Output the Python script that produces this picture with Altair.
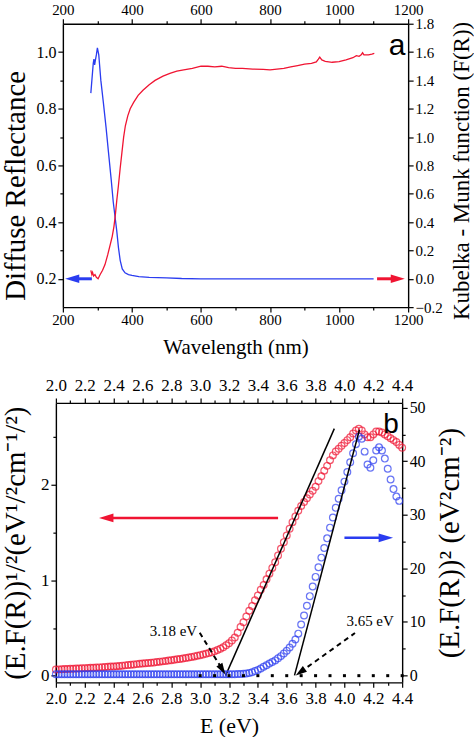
import altair as alt
import pandas as pd

SERIF = "Liberation Serif"
SANS = "Liberation Sans"
RED = "#f01432"
BLUE = "#2a3cf0"

# ---------------- panel a data ----------------
a_blue_nm = [281, 288, 290, 292, 294, 297, 300, 304, 310, 317,
             325, 332, 340, 346, 352, 356, 361, 366, 372, 380,
             390, 400, 420, 450, 500, 544, 600, 700, 800, 900, 1000, 1100]
a_blue_val = [0.855, 0.96, 0.975, 0.955, 0.97, 0.99, 1.015, 0.99, 0.90, 0.825,
              0.735, 0.648, 0.55, 0.47, 0.41, 0.37, 0.31, 0.265, 0.235, 0.221,
              0.215, 0.212, 0.208, 0.205, 0.203, 0.201, 0.2, 0.2, 0.2, 0.2, 0.2, 0.2]

a_red_nm = [281, 284, 286, 289, 293, 297, 302, 308, 315, 322,
            330, 337, 343, 348, 352, 356, 361, 366, 371, 376,
            381, 388, 395, 405, 418, 432, 450, 467, 490, 510,
            530, 550, 575, 600, 620, 640, 660, 680, 700, 720,
            750, 780, 800, 820, 840, 860, 880, 900, 920, 934,
            940, 944, 950, 960, 980, 1000, 1020, 1040, 1050, 1058,
            1064, 1068, 1072, 1085, 1095, 1102]
a_red_val = [0.06, 0.03, 0.045, 0.02, 0.03, 0.01, 0.0, 0.03, 0.06, 0.10,
             0.17, 0.24, 0.30, 0.37, 0.45, 0.55, 0.66, 0.78, 0.89, 1.0,
             1.08, 1.15, 1.20, 1.245, 1.295, 1.33, 1.37, 1.40, 1.43, 1.45,
             1.465, 1.475, 1.485, 1.50, 1.50, 1.495, 1.50, 1.49, 1.485, 1.485,
             1.48, 1.478, 1.475, 1.48, 1.485, 1.495, 1.505, 1.515, 1.52, 1.53,
             1.55, 1.565, 1.545, 1.535, 1.528, 1.533, 1.545, 1.56, 1.575, 1.57,
             1.58, 1.595, 1.58, 1.58, 1.585, 1.59]

a_xticks = [200, 300, 400, 500, 600, 700, 800, 900, 1000, 1100, 1200]
a_lticks = [0.2, 0.3, 0.4, 0.5, 0.6, 0.7, 0.8, 0.9, 1.0]
a_rticks = [-0.2, 0.0, 0.2, 0.4, 0.6, 0.8, 1.0, 1.2, 1.4, 1.6, 1.8]

# arrows of panel a (shaft from/to, head centre)
a_blue_arrow_nm = [227, 284]
a_blue_arrow_val = [0.2, 0.2]
a_blue_head = [227]
a_red_arrow_nm = [1110, 1170]
a_red_arrow_val = [0.0, 0.0]
a_red_head = [1170]

# ---------------- panel b data ----------------
b_E = [2.00, 2.02, 2.04, 2.06, 2.08, 2.10, 2.12, 2.14, 2.16, 2.18,
       2.20, 2.22, 2.24, 2.26, 2.28, 2.30, 2.32, 2.34, 2.36, 2.38,
       2.40, 2.42, 2.44, 2.46, 2.48, 2.50, 2.52, 2.54, 2.56, 2.58,
       2.60, 2.62, 2.64, 2.66, 2.68, 2.70, 2.72, 2.74, 2.76, 2.78,
       2.80, 2.82, 2.84, 2.86, 2.88, 2.90, 2.92, 2.94, 2.96, 2.98,
       3.00, 3.02, 3.04, 3.06, 3.08, 3.10, 3.12, 3.14, 3.16, 3.18,
       3.20, 3.22, 3.24, 3.26, 3.28, 3.30, 3.32, 3.34, 3.36, 3.38,
       3.40, 3.42, 3.44, 3.46, 3.48, 3.50, 3.52, 3.54, 3.56, 3.58,
       3.60, 3.62, 3.64, 3.66, 3.68, 3.70, 3.72, 3.74, 3.76, 3.78,
       3.80, 3.82, 3.84, 3.86, 3.88, 3.90, 3.92, 3.94, 3.96, 3.98,
       4.00, 4.02, 4.04, 4.06, 4.08, 4.10, 4.12, 4.14, 4.16, 4.18,
       4.20, 4.22, 4.24, 4.26, 4.28, 4.30, 4.32, 4.34, 4.36, 4.38,
       4.40]
b_red = [0.065, 0.066, 0.068, 0.069, 0.070, 0.072, 0.073, 0.074, 0.076, 0.077,
         0.079, 0.080, 0.082, 0.083, 0.085, 0.087, 0.089, 0.091, 0.093, 0.095,
         0.097, 0.099, 0.102, 0.105, 0.108, 0.112, 0.115, 0.118, 0.121, 0.124,
         0.127, 0.130, 0.133, 0.136, 0.139, 0.143, 0.147, 0.150, 0.154, 0.158,
         0.162, 0.166, 0.171, 0.175, 0.180, 0.185, 0.190, 0.196, 0.202, 0.208,
         0.215, 0.222, 0.229, 0.237, 0.246, 0.256, 0.268, 0.282, 0.298, 0.318,
         0.340, 0.368, 0.40, 0.45, 0.51, 0.56, 0.62, 0.68, 0.73, 0.79,
         0.84, 0.90, 0.95, 1.01, 1.07, 1.13, 1.19, 1.26, 1.33, 1.40,
         1.47, 1.54, 1.61, 1.67, 1.73, 1.78, 1.82, 1.86, 1.90, 1.94,
         1.98, 2.04, 2.09, 2.15, 2.20, 2.26, 2.31, 2.35, 2.38, 2.41,
         2.44, 2.47, 2.50, 2.54, 2.57, 2.59, 2.57, 2.53, 2.50, 2.50,
         2.53, 2.56, 2.56, 2.55, 2.53, 2.51, 2.49, 2.47, 2.45, 2.42,
         2.39]
b_blue = [0.2, 0.2, 0.2, 0.2, 0.2, 0.2, 0.2, 0.2, 0.2, 0.2,
          0.2, 0.2, 0.2, 0.2, 0.2, 0.2, 0.2, 0.2, 0.2, 0.2,
          0.2, 0.2, 0.2, 0.2, 0.2, 0.2, 0.2, 0.2, 0.2, 0.2,
          0.2, 0.2, 0.2, 0.2, 0.2, 0.2, 0.2, 0.2, 0.2, 0.2,
          0.2, 0.2, 0.2, 0.2, 0.2, 0.2, 0.2, 0.2, 0.2, 0.2,
          0.2, 0.2, 0.2, 0.2, 0.2, 0.2, 0.2, 0.2, 0.2, 0.2,
          0.2, 0.2, 0.2, 0.25, 0.25, 0.3, 0.35, 0.45, 0.6, 0.8,
          1.0, 1.3, 1.6, 1.9, 2.2, 2.5, 2.8, 3.2, 3.6, 4.1,
          4.6, 5.2, 5.9, 6.7, 7.8, 9.5, 11.2, 13.0, 14.8, 16.6,
          18.4, 20.2, 22.0, 23.8, 25.6, 27.6, 29.5, 31.3, 33.0, 34.6,
          36.2, 38.0, 39.8, 41.5, 43.2, 44.6, 44.2, 41.8, 39.4, 38.8,
          40.2, 42.0, 42.6, 42.0, 40.5, 38.6, 36.6, 34.8, 33.4, 32.6]

b_xticks = [2.0, 2.1, 2.2, 2.3, 2.4, 2.5, 2.6, 2.7, 2.8, 2.9, 3.0, 3.1, 3.2,
            3.3, 3.4, 3.5, 3.6, 3.7, 3.8, 3.9, 4.0, 4.1, 4.2, 4.3, 4.4]
b_lticks = [0, 0.5, 1, 1.5, 2, 2.5]
b_rticks = [0, 5, 10, 15, 20, 25, 30, 35, 40, 45, 50]

# tangent lines
tan1_E = [3.176, 3.93]
tan1_L = [0.0, 2.59]
tan2_E = [3.654, 4.104]
tan2_R = [0.0, 45.9]
# dotted baseline
dots_E = [3.0, 3.1, 3.2, 3.3, 3.4, 3.5, 3.6, 3.7, 3.8, 3.9, 4.0, 4.1, 4.2, 4.3, 4.4]
dots_L = [0, 0, 0, 0, 0, 0, 0, 0, 0, 0, 0, 0, 0, 0, 0]
# dashed pointer arrows (start -> head centre), heads
dash1_E = [2.997, 3.154]
dash1_L = [0.45, 0.064]
dash2_E = [4.073, 3.694]
dash2_L = [0.447, 0.037]
heads_E = [3.154, 3.694]
heads_L = [0.064, 0.037]
heads_ang = [148, 234]
# labels
lab_E = [2.815, 4.178]
lab_L = [0.47, 0.576]
lab_txt = ["3.18 eV", "3.65 eV"]
# solid arrows of panel b
b_red_arrow_E = [2.349, 3.54]
b_red_arrow_L = [1.654, 1.654]
b_blue_arrow_E = [4.0, 4.287]
b_blue_arrow_L = [1.445, 1.445]

HEAD_LEFT = "M -1,0 L 1,-0.6 L 1,0.6 Z"
HEAD_RIGHT = "M 1,0 L -1,-0.6 L -1,0.6 Z"
HEAD_UP = "M 0,-1 L 0.62,1 L -0.62,1 Z"


def axis(orient, values, test, fmt, title=None, big=5, small=3, lsize=16,
         tsize=22, lpad=2, tpad=10, **extra):
    kw = dict(orient=orient, values=values, format=fmt,
              labelExpr="(" + test + ") ? datum.label : ''",
              tickSize={"condition": {"test": test, "value": big}, "value": small},
              labelFontSize=lsize, labelPadding=lpad, labelFont=SERIF,
              labelColor="black", domainColor="black", tickColor="black",
              domainWidth=1.4, tickWidth=1.2, grid=False, labelFlush=False,
              labelOverlap=False, title=title)
    if title is not None:
        kw.update(titleFontSize=tsize, titlePadding=tpad, titleFont=SERIF,
                  titleFontWeight="normal", titleColor="black")
    kw.update(extra)
    return alt.Axis(**kw)


# ================= panel a =================
sa_x = alt.Scale(domain=[200, 1200], nice=False, zero=False)
sa_l = alt.Scale(domain=[0.1, 1.1], nice=False, zero=False)
sa_r = alt.Scale(domain=[-0.2, 1.8], nice=False, zero=False)
nm_test = "datum.value % 200 === 0"
dec_test = "round(datum.value*10) % 2 === 0"

xa_b = alt.X("x:Q", scale=sa_x,
             axis=axis("bottom", a_xticks, nm_test, "d", "Wavelength (nm)",
                       lsize=15, lpad=0, tpad=9, tsize=21))
xa_t = alt.X("x:Q", scale=sa_x, axis=axis("top", a_xticks, nm_test, "d", lsize=15, lpad=1))
ya_l = alt.Y("y:Q", scale=sa_l,
             axis=axis("left", a_lticks, dec_test, ".1f", "Diffuse Reflectance",
                       lsize=16, tsize=29, tpad=5, titleY=162))
ya_r = alt.Y("y:Q", scale=sa_r,
             axis=axis("right", a_rticks, "true", ".1f", "Kubelka - Munk function (F(R))",
                       lsize=15, tsize=23, tpad=8, titleAngle=270, titleBaseline="top",
                       titleY=147))

df = pd.DataFrame
a_left = alt.layer(
    alt.Chart(df({"x": a_blue_nm, "y": a_blue_val})).mark_line(color=BLUE, strokeWidth=1.3)
    .encode(x=xa_b, y=ya_l),
    alt.Chart(df({"x": a_blue_arrow_nm, "y": a_blue_arrow_val})).mark_line(color=BLUE, strokeWidth=3)
    .encode(x=xa_b, y=ya_l),
    alt.Chart(df({"x": a_blue_head, "y": [0.2]})).mark_point(shape=HEAD_LEFT, filled=True, size=200,
                                                            color=BLUE, opacity=1)
    .encode(x=xa_b, y=ya_l),
    alt.Chart(df({"x": [1168], "y": [0.989]})).mark_text(text="a", font=SANS, fontSize=30,
                                                         baseline="alphabetic", color="black")
    .encode(x=xa_b, y=ya_l),
)
a_right = alt.layer(
    alt.Chart(df({"x": a_red_nm, "y": a_red_val})).mark_line(color=RED, strokeWidth=1.3)
    .encode(x=xa_t, y=ya_r),
    alt.Chart(df({"x": a_red_arrow_nm, "y": a_red_arrow_val})).mark_line(color=RED, strokeWidth=3)
    .encode(x=xa_t, y=ya_r),
    alt.Chart(df({"x": a_red_head, "y": [0.0]})).mark_point(shape=HEAD_RIGHT, filled=True, size=200,
                                                           color=RED, opacity=1)
    .encode(x=xa_t, y=ya_r),
)
panel_a = (alt.layer(a_left, a_right)
           .resolve_scale(y="independent")
           .resolve_axis(x="independent", y="independent")
           .properties(width=346, height=284))

# ================= panel b =================
# the plot box of panel b starts 7 px left of panel a's: extend the x range
B_W = 340
sb_x = alt.Scale(domain=[2.0, 4.4], nice=False, zero=False, range=[-7, B_W])
sb_l = alt.Scale(domain=[-0.07, 2.86], nice=False, zero=False)
sb_r = alt.Scale(domain=[-1.3, 50.9], nice=False, zero=False)

xb_b = alt.X("x:Q", scale=sb_x,
             axis=axis("bottom", b_xticks, dec_test, ".1f", "E (eV)", lsize=17,
                       lpad=3, tpad=9, tsize=22))
xb_t = alt.X("x:Q", scale=sb_x, axis=axis("top", b_xticks, dec_test, ".1f", lsize=17, lpad=3))
xb_n = alt.X("x:Q", scale=sb_x, axis=None)
yb_l = alt.Y("y:Q", scale=sb_l,
             axis=axis("left", b_lticks, "datum.value % 1 === 0", ".0f",
                       "(E.F(R))¹/²(eV¹/²cm⁻¹/²)", lsize=17, tsize=29, tpad=10, offset=7))
yb_r = alt.Y("y:Q", scale=sb_r,
             axis=axis("right", b_rticks, "datum.value % 10 === 0", "d",
                       "(E.F(R))² (eV²cm⁻²)", lsize=16, tsize=29, tpad=10,
                       titleAngle=270, titleBaseline="top"))
yb_n = alt.Y("y:Q", scale=sb_l, axis=None)

PT = dict(filled=False, size=46, strokeWidth=1.2)
b_left = alt.layer(
    alt.Chart(df({"x": b_E, "y": b_red})).mark_point(color=RED, **PT)
    .encode(x=xb_b, y=yb_l),
    alt.Chart(df({"x": tan1_E, "y": tan1_L})).mark_line(color="black", strokeWidth=1.5)
    .encode(x=xb_b, y=yb_l),
)
b_right = alt.layer(
    alt.Chart(df({"x": b_E[:len(b_blue)], "y": b_blue})).mark_point(color=BLUE, **PT)
    .encode(x=xb_t, y=yb_r),
    alt.Chart(df({"x": tan2_E, "y": tan2_R})).mark_line(color="black", strokeWidth=1.5)
    .encode(x=xb_t, y=yb_r),
)
b_over = alt.layer(
    alt.Chart(df({"x": dots_E, "y": dots_L})).mark_square(color="black", size=9, opacity=1)
    .encode(x=xb_n, y=yb_n),
    alt.Chart(df({"x": dash1_E, "y": dash1_L})).mark_line(color="black", strokeWidth=2, strokeDash=[5, 4])
    .encode(x=xb_n, y=yb_n),
    alt.Chart(df({"x": dash2_E, "y": dash2_L})).mark_line(color="black", strokeWidth=2, strokeDash=[5, 4])
    .encode(x=xb_n, y=yb_n),
    alt.Chart(df({"x": heads_E, "y": heads_L, "a": heads_ang})).mark_point(shape=HEAD_UP, filled=True,
                                                                         size=130, color="black", opacity=1)
    .encode(x=xb_n, y=yb_n, angle=alt.Angle("a:Q", scale=None)),
    alt.Chart(df({"x": lab_E, "y": lab_L, "t": lab_txt})).mark_text(font=SERIF, fontSize=15, color="black")
    .encode(x=xb_n, y=yb_n, text="t:N"),
    alt.Chart(df({"x": b_red_arrow_E, "y": b_red_arrow_L})).mark_line(color=RED, strokeWidth=2.5)
    .encode(x=xb_n, y=yb_n),
    alt.Chart(df({"x": [2.349], "y": [1.654]})).mark_point(shape=HEAD_LEFT, filled=True, size=210,
                                                           color=RED, opacity=1)
    .encode(x=xb_n, y=yb_n),
    alt.Chart(df({"x": b_blue_arrow_E, "y": b_blue_arrow_L})).mark_line(color=BLUE, strokeWidth=2.5)
    .encode(x=xb_n, y=yb_n),
    alt.Chart(df({"x": [4.287], "y": [1.445]})).mark_point(shape=HEAD_RIGHT, filled=True, size=210,
                                                           color=BLUE, opacity=1)
    .encode(x=xb_n, y=yb_n),
    alt.Chart(df({"x": [4.323], "y": [2.545]})).mark_text(text="b", font=SANS, fontSize=28,
                                                          baseline="alphabetic", color="black")
    .encode(x=xb_n, y=yb_n),
)
panel_b = (alt.layer(b_left, b_right, b_over)
           .resolve_scale(y="independent")
           .resolve_axis(x="independent", y="independent")
           .properties(width=B_W, height=280))

chart = (alt.vconcat(panel_a, panel_b, spacing=20,
                     padding={"left": 1, "top": 2, "right": 0, "bottom": 0})
         .configure(background="white", font=SERIF)
         .configure_axis(labelFont=SERIF, titleFont=SERIF)
         .configure_view(stroke=None))

chart.save("out.html", embed_options={"renderer": "svg", "actions": False})
